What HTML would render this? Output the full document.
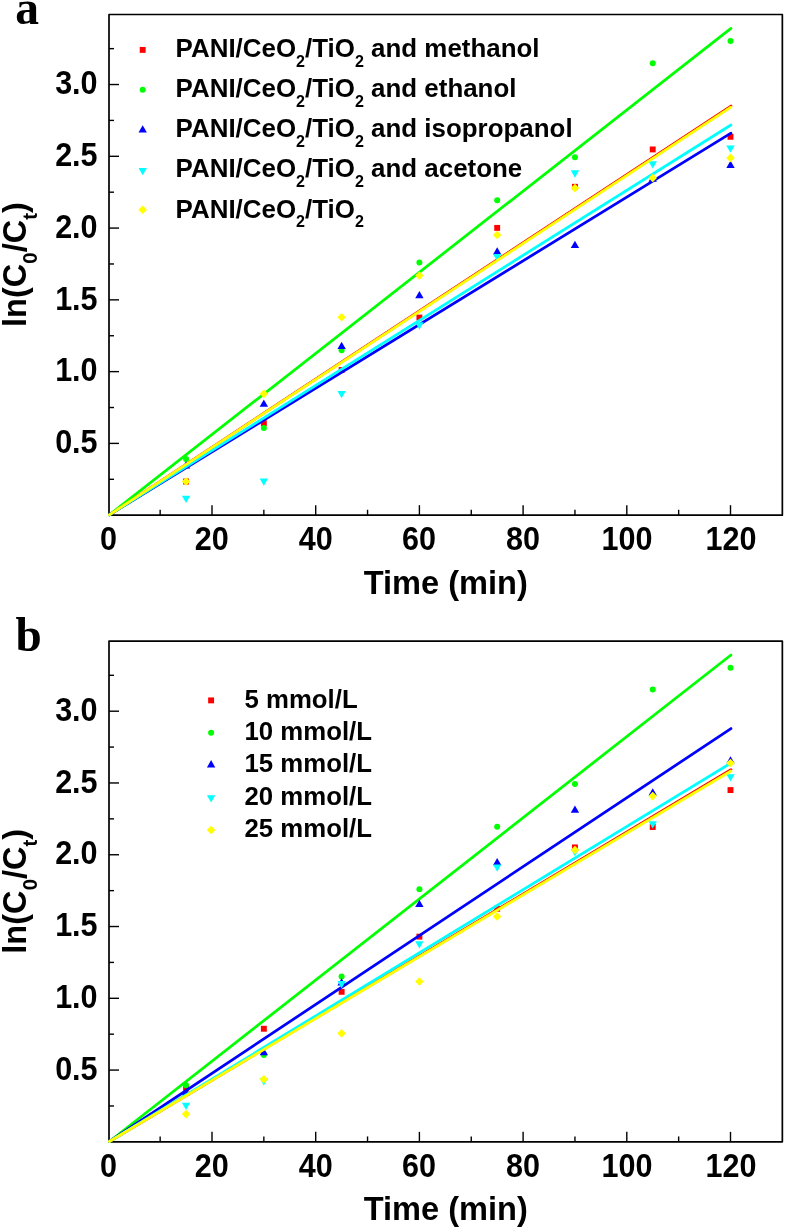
<!DOCTYPE html>
<html lang="en"><head><meta charset="utf-8"><title>Kinetics plots</title>
<style>
html,body{margin:0;padding:0;background:#fff;}
body{width:785px;height:1229px;overflow:hidden;}
svg{display:block;}
text{font-family:"Liberation Sans",Arial,sans-serif;font-weight:bold;fill:#000;}
.tk{font-size:32.5px;}
.lg{font-size:25.1px;white-space:pre;}
.ls{font-size:15.6px;}
.ax{font-size:33.6px;}
.sb{font-size:21px;}
.pn{font-family:"Liberation Serif","Times New Roman",serif;font-size:49.5px;}
</style></head><body>
<svg width="785" height="1229" viewBox="0 0 785 1229">
<rect width="785" height="1229" fill="#fff"/>
<rect x="109.00" y="14.50" width="673.35" height="500.63" fill="none" stroke="#000" stroke-width="1.7" stroke-linejoin="round"/>
<line x1="160.15" y1="515.18" x2="160.15" y2="509.78" stroke="#000" stroke-width="1.4"/>
<line x1="212.00" y1="515.18" x2="212.00" y2="505.18" stroke="#000" stroke-width="1.4"/>
<line x1="263.85" y1="515.18" x2="263.85" y2="509.78" stroke="#000" stroke-width="1.4"/>
<line x1="315.70" y1="515.18" x2="315.70" y2="505.18" stroke="#000" stroke-width="1.4"/>
<line x1="367.55" y1="515.18" x2="367.55" y2="509.78" stroke="#000" stroke-width="1.4"/>
<line x1="419.40" y1="515.18" x2="419.40" y2="505.18" stroke="#000" stroke-width="1.4"/>
<line x1="471.25" y1="515.18" x2="471.25" y2="509.78" stroke="#000" stroke-width="1.4"/>
<line x1="523.10" y1="515.18" x2="523.10" y2="505.18" stroke="#000" stroke-width="1.4"/>
<line x1="574.95" y1="515.18" x2="574.95" y2="509.78" stroke="#000" stroke-width="1.4"/>
<line x1="626.80" y1="515.18" x2="626.80" y2="505.18" stroke="#000" stroke-width="1.4"/>
<line x1="678.65" y1="515.18" x2="678.65" y2="509.78" stroke="#000" stroke-width="1.4"/>
<line x1="730.50" y1="515.18" x2="730.50" y2="505.18" stroke="#000" stroke-width="1.4"/>
<text transform="translate(108.40,550.03) scale(0.94,1)" text-anchor="middle" class="tk">0</text>
<text transform="translate(211.65,550.03) scale(0.94,1)" text-anchor="middle" class="tk">20</text>
<text transform="translate(315.80,550.03) scale(0.94,1)" text-anchor="middle" class="tk">40</text>
<text transform="translate(419.10,550.03) scale(0.94,1)" text-anchor="middle" class="tk">60</text>
<text transform="translate(522.90,550.03) scale(0.94,1)" text-anchor="middle" class="tk">80</text>
<text transform="translate(627.00,550.03) scale(0.94,1)" text-anchor="middle" class="tk">100</text>
<text transform="translate(730.90,550.03) scale(0.94,1)" text-anchor="middle" class="tk">120</text>
<line x1="109.00" y1="479.29" x2="114.00" y2="479.29" stroke="#000" stroke-width="1.4"/>
<line x1="109.00" y1="443.40" x2="119.00" y2="443.40" stroke="#000" stroke-width="1.4"/>
<text transform="translate(97.6,453.10) scale(0.94,1)" text-anchor="end" class="tk">0.5</text>
<line x1="109.00" y1="407.52" x2="114.00" y2="407.52" stroke="#000" stroke-width="1.4"/>
<line x1="109.00" y1="371.63" x2="119.00" y2="371.63" stroke="#000" stroke-width="1.4"/>
<text transform="translate(97.6,381.33) scale(0.94,1)" text-anchor="end" class="tk">1.0</text>
<line x1="109.00" y1="335.74" x2="114.00" y2="335.74" stroke="#000" stroke-width="1.4"/>
<line x1="109.00" y1="299.85" x2="119.00" y2="299.85" stroke="#000" stroke-width="1.4"/>
<text transform="translate(97.6,309.55) scale(0.94,1)" text-anchor="end" class="tk">1.5</text>
<line x1="109.00" y1="263.97" x2="114.00" y2="263.97" stroke="#000" stroke-width="1.4"/>
<line x1="109.00" y1="228.08" x2="119.00" y2="228.08" stroke="#000" stroke-width="1.4"/>
<text transform="translate(97.6,237.78) scale(0.94,1)" text-anchor="end" class="tk">2.0</text>
<line x1="109.00" y1="192.19" x2="114.00" y2="192.19" stroke="#000" stroke-width="1.4"/>
<line x1="109.00" y1="156.30" x2="119.00" y2="156.30" stroke="#000" stroke-width="1.4"/>
<text transform="translate(97.6,166.00) scale(0.94,1)" text-anchor="end" class="tk">2.5</text>
<line x1="109.00" y1="120.42" x2="114.00" y2="120.42" stroke="#000" stroke-width="1.4"/>
<line x1="109.00" y1="84.53" x2="119.00" y2="84.53" stroke="#000" stroke-width="1.4"/>
<text transform="translate(97.6,94.23) scale(0.94,1)" text-anchor="end" class="tk">3.0</text>
<line x1="109.00" y1="48.64" x2="114.00" y2="48.64" stroke="#000" stroke-width="1.4"/>
<rect x="183.12" y="478.57" width="5.9" height="5.9" fill="#ff0000"/>
<rect x="260.90" y="420.23" width="5.9" height="5.9" fill="#ff0000"/>
<rect x="338.68" y="367.06" width="5.9" height="5.9" fill="#ff0000"/>
<rect x="416.45" y="314.61" width="5.9" height="5.9" fill="#ff0000"/>
<rect x="494.22" y="224.94" width="5.9" height="5.9" fill="#ff0000"/>
<rect x="572.00" y="183.84" width="5.9" height="5.9" fill="#ff0000"/>
<rect x="649.77" y="146.48" width="5.9" height="5.9" fill="#ff0000"/>
<rect x="727.55" y="133.83" width="5.9" height="5.9" fill="#ff0000"/>
<line x1="109.40" y1="514.80" x2="730.95" y2="106.03" stroke="#ff0000" stroke-width="2.75" stroke-linecap="round"/>
<circle cx="186.07" cy="458.96" r="3.0" fill="#00ff00"/>
<circle cx="263.85" cy="427.92" r="3.0" fill="#00ff00"/>
<circle cx="341.62" cy="350.18" r="3.0" fill="#00ff00"/>
<circle cx="419.40" cy="262.52" r="3.0" fill="#00ff00"/>
<circle cx="497.17" cy="200.30" r="3.0" fill="#00ff00"/>
<circle cx="574.95" cy="157.33" r="3.0" fill="#00ff00"/>
<circle cx="652.72" cy="63.21" r="3.0" fill="#00ff00"/>
<circle cx="730.50" cy="41.08" r="3.0" fill="#00ff00"/>
<line x1="109.40" y1="514.80" x2="730.95" y2="28.43" stroke="#00ff00" stroke-width="2.75" stroke-linecap="round"/>
<polygon points="181.88,468.52 190.27,468.52 186.07,461.22" fill="#0000ff"/>
<polygon points="259.65,406.73 268.05,406.73 263.85,399.43" fill="#0000ff"/>
<polygon points="337.43,349.11 345.82,349.11 341.62,341.81" fill="#0000ff"/>
<polygon points="415.20,298.24 423.60,298.24 419.40,290.94" fill="#0000ff"/>
<polygon points="492.97,254.55 501.37,254.55 497.17,247.25" fill="#0000ff"/>
<polygon points="570.75,247.94 579.15,247.94 574.95,240.64" fill="#0000ff"/>
<polygon points="648.52,181.84 656.92,181.84 652.72,174.54" fill="#0000ff"/>
<polygon points="726.30,167.90 734.70,167.90 730.50,160.60" fill="#0000ff"/>
<line x1="109.40" y1="514.80" x2="730.95" y2="133.19" stroke="#0000ff" stroke-width="2.75" stroke-linecap="round"/>
<polygon points="181.88,495.66 190.27,495.66 186.07,502.96" fill="#00ffff"/>
<polygon points="259.65,478.56 268.05,478.56 263.85,485.86" fill="#00ffff"/>
<polygon points="337.43,391.05 345.82,391.05 341.62,398.35" fill="#00ffff"/>
<polygon points="415.20,322.36 423.60,322.36 419.40,329.66" fill="#00ffff"/>
<polygon points="492.97,253.96 501.37,253.96 497.17,261.26" fill="#00ffff"/>
<polygon points="570.75,170.33 579.15,170.33 574.95,177.63" fill="#00ffff"/>
<polygon points="648.52,161.27 656.92,161.27 652.72,168.57" fill="#00ffff"/>
<polygon points="726.30,145.47 734.70,145.47 730.50,152.77" fill="#00ffff"/>
<line x1="109.40" y1="514.80" x2="730.95" y2="125.00" stroke="#00ffff" stroke-width="2.75" stroke-linecap="round"/>
<polygon points="181.77,481.52 186.07,477.22 190.38,481.52 186.07,485.82" fill="#ffff00"/>
<polygon points="259.55,393.86 263.85,389.56 268.15,393.86 263.85,398.16" fill="#ffff00"/>
<polygon points="337.32,317.27 341.62,312.97 345.93,317.27 341.62,321.57" fill="#ffff00"/>
<polygon points="415.10,275.60 419.40,271.30 423.70,275.60 419.40,279.90" fill="#ffff00"/>
<polygon points="492.87,235.07 497.17,230.77 501.47,235.07 497.17,239.37" fill="#ffff00"/>
<polygon points="570.65,188.08 574.95,183.78 579.25,188.08 574.95,192.38" fill="#ffff00"/>
<polygon points="648.42,178.02 652.72,173.72 657.02,178.02 652.72,182.32" fill="#ffff00"/>
<polygon points="726.20,157.91 730.50,153.61 734.80,157.91 730.50,162.21" fill="#ffff00"/>
<line x1="109.40" y1="514.80" x2="730.95" y2="107.18" stroke="#ffff00" stroke-width="2.75" stroke-linecap="round"/>
<text transform="translate(445.7,593.78) scale(0.97,1)" text-anchor="middle" class="ax">Time (min)</text>
<text transform="translate(25.6,264.58) rotate(-90) scale(0.97,1)" text-anchor="middle" class="ax">ln(C<tspan class="sb" dy="11.7">0</tspan><tspan dy="-11.7">/C</tspan><tspan class="sb" dy="11.7">t</tspan><tspan dy="-11.7">)</tspan></text>
<text transform="translate(15.3,23.8) scale(0.96,1)" class="pn" style="font-size:49.5px">a</text>
<rect x="139.75" y="46.95" width="5.9" height="5.9" fill="#ff0000"/>
<text transform="translate(175.60,57.2) scale(1.033,1)" class="lg">PANI/CeO<tspan class="ls" dy="9.7">2</tspan><tspan dy="-9.7">/TiO</tspan><tspan class="ls" dy="9.7">2</tspan><tspan dy="-9.7"> and methanol</tspan></text>
<circle cx="142.70" cy="89.80" r="3.0" fill="#00ff00"/>
<text transform="translate(175.60,96.9) scale(1.033,1)" class="lg">PANI/CeO<tspan class="ls" dy="9.7">2</tspan><tspan dy="-9.7">/TiO</tspan><tspan class="ls" dy="9.7">2</tspan><tspan dy="-9.7"> and ethanol</tspan></text>
<polygon points="138.50,132.50 146.90,132.50 142.70,125.20" fill="#0000ff"/>
<text transform="translate(175.60,136.8) scale(1.033,1)" class="lg">PANI/CeO<tspan class="ls" dy="9.7">2</tspan><tspan dy="-9.7">/TiO</tspan><tspan class="ls" dy="9.7">2</tspan><tspan dy="-9.7"> and isopropanol</tspan></text>
<polygon points="138.50,167.90 146.90,167.90 142.70,175.20" fill="#00ffff"/>
<text transform="translate(175.60,177.4) scale(1.033,1)" class="lg">PANI/CeO<tspan class="ls" dy="9.7">2</tspan><tspan dy="-9.7">/TiO</tspan><tspan class="ls" dy="9.7">2</tspan><tspan dy="-9.7"> and acetone</tspan></text>
<polygon points="138.40,209.80 142.70,205.50 147.00,209.80 142.70,214.10" fill="#ffff00"/>
<text transform="translate(175.60,217.5) scale(1.033,1)" class="lg">PANI/CeO<tspan class="ls" dy="9.7">2</tspan><tspan dy="-9.7">/TiO</tspan><tspan class="ls" dy="9.7">2</tspan><tspan dy="-9.7"></tspan></text>
<rect x="109.00" y="641.10" width="673.35" height="500.70" fill="none" stroke="#000" stroke-width="1.7" stroke-linejoin="round"/>
<line x1="160.15" y1="1141.85" x2="160.15" y2="1136.45" stroke="#000" stroke-width="1.4"/>
<line x1="212.00" y1="1141.85" x2="212.00" y2="1131.85" stroke="#000" stroke-width="1.4"/>
<line x1="263.85" y1="1141.85" x2="263.85" y2="1136.45" stroke="#000" stroke-width="1.4"/>
<line x1="315.70" y1="1141.85" x2="315.70" y2="1131.85" stroke="#000" stroke-width="1.4"/>
<line x1="367.55" y1="1141.85" x2="367.55" y2="1136.45" stroke="#000" stroke-width="1.4"/>
<line x1="419.40" y1="1141.85" x2="419.40" y2="1131.85" stroke="#000" stroke-width="1.4"/>
<line x1="471.25" y1="1141.85" x2="471.25" y2="1136.45" stroke="#000" stroke-width="1.4"/>
<line x1="523.10" y1="1141.85" x2="523.10" y2="1131.85" stroke="#000" stroke-width="1.4"/>
<line x1="574.95" y1="1141.85" x2="574.95" y2="1136.45" stroke="#000" stroke-width="1.4"/>
<line x1="626.80" y1="1141.85" x2="626.80" y2="1131.85" stroke="#000" stroke-width="1.4"/>
<line x1="678.65" y1="1141.85" x2="678.65" y2="1136.45" stroke="#000" stroke-width="1.4"/>
<line x1="730.50" y1="1141.85" x2="730.50" y2="1131.85" stroke="#000" stroke-width="1.4"/>
<text transform="translate(108.40,1176.70) scale(0.94,1)" text-anchor="middle" class="tk">0</text>
<text transform="translate(211.65,1176.70) scale(0.94,1)" text-anchor="middle" class="tk">20</text>
<text transform="translate(315.80,1176.70) scale(0.94,1)" text-anchor="middle" class="tk">40</text>
<text transform="translate(419.10,1176.70) scale(0.94,1)" text-anchor="middle" class="tk">60</text>
<text transform="translate(522.90,1176.70) scale(0.94,1)" text-anchor="middle" class="tk">80</text>
<text transform="translate(627.00,1176.70) scale(0.94,1)" text-anchor="middle" class="tk">100</text>
<text transform="translate(730.90,1176.70) scale(0.94,1)" text-anchor="middle" class="tk">120</text>
<line x1="109.00" y1="1105.96" x2="114.00" y2="1105.96" stroke="#000" stroke-width="1.4"/>
<line x1="109.00" y1="1070.07" x2="119.00" y2="1070.07" stroke="#000" stroke-width="1.4"/>
<text transform="translate(97.6,1079.77) scale(0.94,1)" text-anchor="end" class="tk">0.5</text>
<line x1="109.00" y1="1034.19" x2="114.00" y2="1034.19" stroke="#000" stroke-width="1.4"/>
<line x1="109.00" y1="998.30" x2="119.00" y2="998.30" stroke="#000" stroke-width="1.4"/>
<text transform="translate(97.6,1008.00) scale(0.94,1)" text-anchor="end" class="tk">1.0</text>
<line x1="109.00" y1="962.41" x2="114.00" y2="962.41" stroke="#000" stroke-width="1.4"/>
<line x1="109.00" y1="926.52" x2="119.00" y2="926.52" stroke="#000" stroke-width="1.4"/>
<text transform="translate(97.6,936.22) scale(0.94,1)" text-anchor="end" class="tk">1.5</text>
<line x1="109.00" y1="890.64" x2="114.00" y2="890.64" stroke="#000" stroke-width="1.4"/>
<line x1="109.00" y1="854.75" x2="119.00" y2="854.75" stroke="#000" stroke-width="1.4"/>
<text transform="translate(97.6,864.45) scale(0.94,1)" text-anchor="end" class="tk">2.0</text>
<line x1="109.00" y1="818.86" x2="114.00" y2="818.86" stroke="#000" stroke-width="1.4"/>
<line x1="109.00" y1="782.97" x2="119.00" y2="782.97" stroke="#000" stroke-width="1.4"/>
<text transform="translate(97.6,792.67) scale(0.94,1)" text-anchor="end" class="tk">2.5</text>
<line x1="109.00" y1="747.09" x2="114.00" y2="747.09" stroke="#000" stroke-width="1.4"/>
<line x1="109.00" y1="711.20" x2="119.00" y2="711.20" stroke="#000" stroke-width="1.4"/>
<text transform="translate(97.6,720.90) scale(0.94,1)" text-anchor="end" class="tk">3.0</text>
<line x1="109.00" y1="675.31" x2="114.00" y2="675.31" stroke="#000" stroke-width="1.4"/>
<rect x="183.12" y="1085.58" width="5.9" height="5.9" fill="#ff0000"/>
<rect x="260.90" y="1025.80" width="5.9" height="5.9" fill="#ff0000"/>
<rect x="338.68" y="988.87" width="5.9" height="5.9" fill="#ff0000"/>
<rect x="416.45" y="933.69" width="5.9" height="5.9" fill="#ff0000"/>
<rect x="494.22" y="905.81" width="5.9" height="5.9" fill="#ff0000"/>
<rect x="572.00" y="844.45" width="5.9" height="5.9" fill="#ff0000"/>
<rect x="649.77" y="824.05" width="5.9" height="5.9" fill="#ff0000"/>
<rect x="727.55" y="787.12" width="5.9" height="5.9" fill="#ff0000"/>
<line x1="109.40" y1="1141.50" x2="730.95" y2="769.66" stroke="#ff0000" stroke-width="2.75" stroke-linecap="round"/>
<circle cx="186.07" cy="1085.37" r="3.0" fill="#00ff00"/>
<circle cx="263.85" cy="1055.05" r="3.0" fill="#00ff00"/>
<circle cx="341.62" cy="976.59" r="3.0" fill="#00ff00"/>
<circle cx="419.40" cy="889.36" r="3.0" fill="#00ff00"/>
<circle cx="497.17" cy="826.71" r="3.0" fill="#00ff00"/>
<circle cx="574.95" cy="783.89" r="3.0" fill="#00ff00"/>
<circle cx="652.72" cy="689.48" r="3.0" fill="#00ff00"/>
<circle cx="730.50" cy="667.63" r="3.0" fill="#00ff00"/>
<line x1="109.40" y1="1141.50" x2="730.95" y2="654.99" stroke="#00ff00" stroke-width="2.75" stroke-linecap="round"/>
<polygon points="181.88,1095.22 190.27,1095.22 186.07,1087.92" fill="#0000ff"/>
<polygon points="259.65,1055.27 268.05,1055.27 263.85,1047.97" fill="#0000ff"/>
<polygon points="337.43,985.58 345.82,985.58 341.62,978.28" fill="#0000ff"/>
<polygon points="415.20,907.12 423.60,907.12 419.40,899.82" fill="#0000ff"/>
<polygon points="492.97,865.30 501.37,865.30 497.17,858.00" fill="#0000ff"/>
<polygon points="570.75,812.85 579.15,812.85 574.95,805.55" fill="#0000ff"/>
<polygon points="648.52,795.47 656.92,795.47 652.72,788.17" fill="#0000ff"/>
<polygon points="726.30,763.56 734.70,763.56 730.50,756.26" fill="#0000ff"/>
<line x1="109.40" y1="1141.50" x2="730.95" y2="728.56" stroke="#0000ff" stroke-width="2.75" stroke-linecap="round"/>
<polygon points="181.88,1102.68 190.27,1102.68 186.07,1109.98" fill="#00ffff"/>
<polygon points="259.65,1078.10 268.05,1078.10 263.85,1085.40" fill="#00ffff"/>
<polygon points="337.43,981.10 345.82,981.10 341.62,988.40" fill="#00ffff"/>
<polygon points="415.20,941.30 423.60,941.30 419.40,948.60" fill="#00ffff"/>
<polygon points="492.97,864.56 501.37,864.56 497.17,871.86" fill="#00ffff"/>
<polygon points="570.75,848.90 579.15,848.90 574.95,856.20" fill="#00ffff"/>
<polygon points="648.52,821.17 656.92,821.17 652.72,828.47" fill="#00ffff"/>
<polygon points="726.30,774.32 734.70,774.32 730.50,781.62" fill="#00ffff"/>
<line x1="109.40" y1="1141.50" x2="730.95" y2="763.05" stroke="#00ffff" stroke-width="2.75" stroke-linecap="round"/>
<polygon points="181.77,1114.11 186.07,1109.81 190.38,1114.11 186.07,1118.41" fill="#ffff00"/>
<polygon points="259.55,1079.19 263.85,1074.89 268.15,1079.19 263.85,1083.49" fill="#ffff00"/>
<polygon points="337.32,1033.35 341.62,1029.05 345.93,1033.35 341.62,1037.65" fill="#ffff00"/>
<polygon points="415.10,981.47 419.40,977.17 423.70,981.47 419.40,985.77" fill="#ffff00"/>
<polygon points="492.87,916.52 497.17,912.22 501.47,916.52 497.17,920.82" fill="#ffff00"/>
<polygon points="570.65,849.99 574.95,845.69 579.25,849.99 574.95,854.29" fill="#ffff00"/>
<polygon points="648.42,796.10 652.72,791.80 657.02,796.10 652.72,800.40" fill="#ffff00"/>
<polygon points="726.20,763.05 730.50,758.75 734.80,763.05 730.50,767.35" fill="#ffff00"/>
<line x1="109.40" y1="1141.50" x2="730.95" y2="770.95" stroke="#ffff00" stroke-width="2.75" stroke-linecap="round"/>
<text transform="translate(445.7,1220.45) scale(0.97,1)" text-anchor="middle" class="ax">Time (min)</text>
<text transform="translate(25.6,891.25) rotate(-90) scale(0.97,1)" text-anchor="middle" class="ax">ln(C<tspan class="sb" dy="11.7">0</tspan><tspan dy="-11.7">/C</tspan><tspan class="sb" dy="11.7">t</tspan><tspan dy="-11.7">)</tspan></text>
<text transform="translate(15.5,650.6) scale(0.983,1)" class="pn" style="font-size:48px">b</text>
<rect x="208.15" y="697.45" width="5.9" height="5.9" fill="#ff0000"/>
<text transform="translate(244.50,707.7) scale(1.027,1)" class="lg">5 mmol/L</text>
<circle cx="211.10" cy="732.70" r="3.0" fill="#00ff00"/>
<text transform="translate(244.50,740.1) scale(1.027,1)" class="lg">10 mmol/L</text>
<polygon points="206.90,767.40 215.30,767.40 211.10,760.10" fill="#0000ff"/>
<text transform="translate(244.50,772.4) scale(1.027,1)" class="lg">15 mmol/L</text>
<polygon points="206.90,795.20 215.30,795.20 211.10,802.50" fill="#00ffff"/>
<text transform="translate(244.50,804.8) scale(1.027,1)" class="lg">20 mmol/L</text>
<polygon points="206.80,830.00 211.10,825.70 215.40,830.00 211.10,834.30" fill="#ffff00"/>
<text transform="translate(244.50,837.2) scale(1.027,1)" class="lg">25 mmol/L</text>
</svg>
</body></html>
